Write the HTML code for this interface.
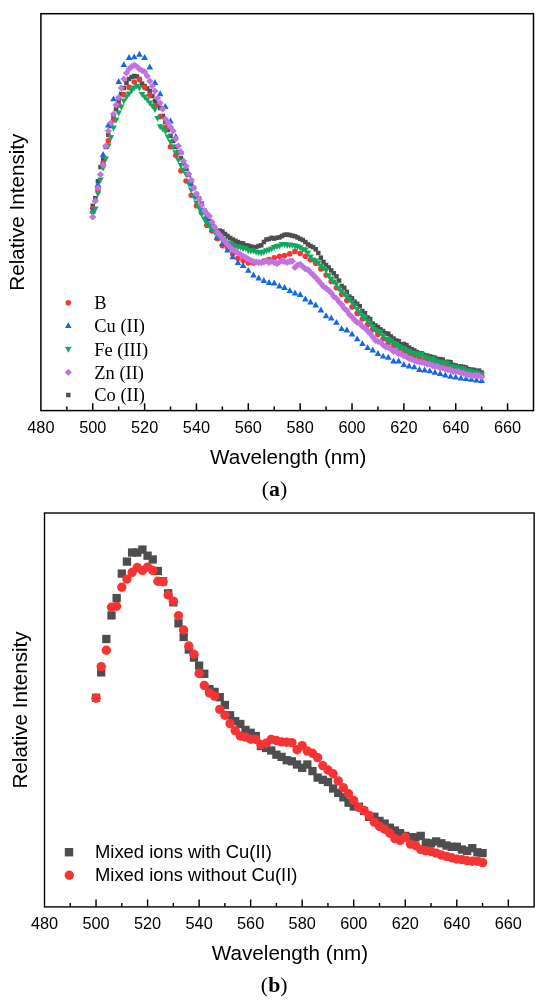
<!DOCTYPE html>
<html><head><meta charset="utf-8"><title>Figure</title>
<style>html,body{margin:0;padding:0;background:#fff}svg{display:block}text{fill:#000}.s{font-family:"Liberation Sans",Arial,sans-serif}.t{font-family:"Liberation Serif","Times New Roman",serif}</style></head><body>
<svg width="550" height="1006" viewBox="0 0 550 1006">
<rect width="550" height="1006" fill="#fff"/>
<g stroke="#000" stroke-width="1.5" fill="none">
<rect x="40.9" y="13.7" width="492.60" height="396.90"/>
<path d="M66.83 410.6V406.60M92.75 410.6V403.30M118.68 410.6V406.60M144.61 410.6V403.30M170.53 410.6V406.60M196.46 410.6V403.30M222.38 410.6V406.60M248.31 410.6V403.30M274.24 410.6V406.60M300.16 410.6V403.30M326.09 410.6V406.60M352.02 410.6V403.30M377.94 410.6V406.60M403.87 410.6V403.30M429.79 410.6V406.60M455.72 410.6V403.30M481.65 410.6V406.60M507.57 410.6V403.30"/>
</g>
<g class="s" font-size="16.3" text-anchor="middle">
<text x="40.90" y="432.7">480</text>
<text x="92.75" y="432.7">500</text>
<text x="144.61" y="432.7">520</text>
<text x="196.46" y="432.7">540</text>
<text x="248.31" y="432.7">560</text>
<text x="300.16" y="432.7">580</text>
<text x="352.02" y="432.7">600</text>
<text x="403.87" y="432.7">620</text>
<text x="455.72" y="432.7">640</text>
<text x="507.57" y="432.7">660</text>
</g>
<text class="s" font-size="20.65" text-anchor="middle" x="288.2" y="464.1">Wavelength (nm)</text>
<text class="s" font-size="20.65" text-anchor="middle" transform="translate(23.8 212.15) rotate(-90)">Relative Intensity</text>
<g fill="#4E4E4E">
<rect x="90.50" y="203.55" width="4.50" height="4.50"/><rect x="93.10" y="195.95" width="4.50" height="4.50"/><rect x="95.69" y="179.05" width="4.50" height="4.50"/><rect x="98.28" y="164.85" width="4.50" height="4.50"/><rect x="100.87" y="157.15" width="4.50" height="4.50"/><rect x="103.47" y="144.75" width="4.50" height="4.50"/><rect x="106.06" y="132.65" width="4.50" height="4.50"/><rect x="108.65" y="123.75" width="4.50" height="4.50"/><rect x="111.24" y="114.75" width="4.50" height="4.50"/><rect x="113.84" y="106.75" width="4.50" height="4.50"/><rect x="116.43" y="98.75" width="4.50" height="4.50"/><rect x="119.02" y="91.75" width="4.50" height="4.50"/><rect x="121.61" y="85.75" width="4.50" height="4.50"/><rect x="124.21" y="80.75" width="4.50" height="4.50"/><rect x="126.80" y="76.75" width="4.50" height="4.50"/><rect x="129.39" y="74.75" width="4.50" height="4.50"/><rect x="131.98" y="73.75" width="4.50" height="4.50"/><rect x="134.58" y="74.25" width="4.50" height="4.50"/><rect x="137.17" y="76.75" width="4.50" height="4.50"/><rect x="139.76" y="81.35" width="4.50" height="4.50"/><rect x="142.36" y="83.75" width="4.50" height="4.50"/><rect x="144.95" y="86.25" width="4.50" height="4.50"/><rect x="147.54" y="88.75" width="4.50" height="4.50"/><rect x="150.13" y="93.75" width="4.50" height="4.50"/><rect x="152.73" y="98.75" width="4.50" height="4.50"/><rect x="155.32" y="101.75" width="4.50" height="4.50"/><rect x="157.91" y="105.75" width="4.50" height="4.50"/><rect x="160.50" y="113.75" width="4.50" height="4.50"/><rect x="163.10" y="119.75" width="4.50" height="4.50"/><rect x="165.69" y="127.75" width="4.50" height="4.50"/><rect x="168.28" y="133.55" width="4.50" height="4.50"/><rect x="170.87" y="138.75" width="4.50" height="4.50"/><rect x="173.47" y="144.75" width="4.50" height="4.50"/><rect x="176.06" y="149.75" width="4.50" height="4.50"/><rect x="178.65" y="155.75" width="4.50" height="4.50"/><rect x="181.24" y="160.75" width="4.50" height="4.50"/><rect x="183.84" y="166.75" width="4.50" height="4.50"/><rect x="186.43" y="172.75" width="4.50" height="4.50"/><rect x="189.02" y="178.75" width="4.50" height="4.50"/><rect x="191.62" y="185.75" width="4.50" height="4.50"/><rect x="194.21" y="191.75" width="4.50" height="4.50"/><rect x="196.80" y="196.25" width="4.50" height="4.50"/><rect x="199.39" y="201.35" width="4.50" height="4.50"/><rect x="201.99" y="208.35" width="4.50" height="4.50"/><rect x="204.58" y="213.75" width="4.50" height="4.50"/><rect x="207.17" y="218.75" width="4.50" height="4.50"/><rect x="209.76" y="220.75" width="4.50" height="4.50"/><rect x="212.36" y="225.25" width="4.50" height="4.50"/><rect x="214.95" y="229.35" width="4.50" height="4.50"/><rect x="217.54" y="228.35" width="4.50" height="4.50"/><rect x="220.13" y="229.25" width="4.50" height="4.50"/><rect x="222.73" y="231.69" width="4.50" height="4.50"/><rect x="225.32" y="233.75" width="4.50" height="4.50"/><rect x="227.91" y="235.70" width="4.50" height="4.50"/><rect x="230.50" y="237.25" width="4.50" height="4.50"/><rect x="233.10" y="238.55" width="4.50" height="4.50"/><rect x="235.69" y="239.75" width="4.50" height="4.50"/><rect x="238.28" y="240.90" width="4.50" height="4.50"/><rect x="240.88" y="241.25" width="4.50" height="4.50"/><rect x="243.47" y="243.25" width="4.50" height="4.50"/><rect x="246.06" y="243.35" width="4.50" height="4.50"/><rect x="248.65" y="244.25" width="4.50" height="4.50"/><rect x="251.25" y="245.15" width="4.50" height="4.50"/><rect x="253.84" y="244.75" width="4.50" height="4.50"/><rect x="256.43" y="243.75" width="4.50" height="4.50"/><rect x="259.02" y="243.05" width="4.50" height="4.50"/><rect x="261.62" y="239.75" width="4.50" height="4.50"/><rect x="264.21" y="237.25" width="4.50" height="4.50"/><rect x="266.80" y="236.75" width="4.50" height="4.50"/><rect x="269.39" y="235.61" width="4.50" height="4.50"/><rect x="271.99" y="236.35" width="4.50" height="4.50"/><rect x="274.58" y="235.52" width="4.50" height="4.50"/><rect x="277.17" y="235.15" width="4.50" height="4.50"/><rect x="279.76" y="233.75" width="4.50" height="4.50"/><rect x="282.36" y="232.55" width="4.50" height="4.50"/><rect x="284.95" y="232.35" width="4.50" height="4.50"/><rect x="287.54" y="232.75" width="4.50" height="4.50"/><rect x="290.14" y="233.45" width="4.50" height="4.50"/><rect x="292.73" y="234.05" width="4.50" height="4.50"/><rect x="295.32" y="235.25" width="4.50" height="4.50"/><rect x="297.91" y="236.55" width="4.50" height="4.50"/><rect x="300.51" y="237.75" width="4.50" height="4.50"/><rect x="303.10" y="239.75" width="4.50" height="4.50"/><rect x="305.69" y="242.15" width="4.50" height="4.50"/><rect x="308.28" y="243.75" width="4.50" height="4.50"/><rect x="310.88" y="244.93" width="4.50" height="4.50"/><rect x="313.47" y="247.05" width="4.50" height="4.50"/><rect x="316.06" y="250.75" width="4.50" height="4.50"/><rect x="318.65" y="255.45" width="4.50" height="4.50"/><rect x="321.25" y="259.75" width="4.50" height="4.50"/><rect x="323.84" y="262.75" width="4.50" height="4.50"/><rect x="326.43" y="265.25" width="4.50" height="4.50"/><rect x="329.02" y="268.14" width="4.50" height="4.50"/><rect x="331.62" y="271.05" width="4.50" height="4.50"/><rect x="334.21" y="274.16" width="4.50" height="4.50"/><rect x="336.80" y="278.35" width="4.50" height="4.50"/><rect x="339.40" y="283.76" width="4.50" height="4.50"/><rect x="341.99" y="285.55" width="4.50" height="4.50"/><rect x="344.58" y="289.68" width="4.50" height="4.50"/><rect x="347.17" y="294.35" width="4.50" height="4.50"/><rect x="349.77" y="296.06" width="4.50" height="4.50"/><rect x="352.36" y="299.45" width="4.50" height="4.50"/><rect x="354.95" y="301.55" width="4.50" height="4.50"/><rect x="357.54" y="304.00" width="4.50" height="4.50"/><rect x="360.14" y="308.75" width="4.50" height="4.50"/><rect x="362.73" y="310.96" width="4.50" height="4.50"/><rect x="365.32" y="315.22" width="4.50" height="4.50"/><rect x="367.91" y="316.75" width="4.50" height="4.50"/><rect x="370.51" y="321.32" width="4.50" height="4.50"/><rect x="373.10" y="323.15" width="4.50" height="4.50"/><rect x="375.69" y="324.79" width="4.50" height="4.50"/><rect x="378.28" y="327.12" width="4.50" height="4.50"/><rect x="380.88" y="328.75" width="4.50" height="4.50"/><rect x="383.47" y="331.04" width="4.50" height="4.50"/><rect x="386.06" y="331.43" width="4.50" height="4.50"/><rect x="388.66" y="334.25" width="4.50" height="4.50"/><rect x="391.25" y="336.27" width="4.50" height="4.50"/><rect x="393.84" y="338.25" width="4.50" height="4.50"/><rect x="396.43" y="338.90" width="4.50" height="4.50"/><rect x="399.03" y="341.98" width="4.50" height="4.50"/><rect x="401.62" y="341.75" width="4.50" height="4.50"/><rect x="404.21" y="342.87" width="4.50" height="4.50"/><rect x="406.80" y="345.35" width="4.50" height="4.50"/><rect x="409.40" y="346.92" width="4.50" height="4.50"/><rect x="411.99" y="348.22" width="4.50" height="4.50"/><rect x="414.58" y="349.75" width="4.50" height="4.50"/><rect x="417.17" y="350.89" width="4.50" height="4.50"/><rect x="419.77" y="351.25" width="4.50" height="4.50"/><rect x="422.36" y="352.99" width="4.50" height="4.50"/><rect x="424.95" y="353.41" width="4.50" height="4.50"/><rect x="427.54" y="354.15" width="4.50" height="4.50"/><rect x="430.14" y="354.73" width="4.50" height="4.50"/><rect x="432.73" y="355.47" width="4.50" height="4.50"/><rect x="435.32" y="356.75" width="4.50" height="4.50"/><rect x="437.92" y="356.89" width="4.50" height="4.50"/><rect x="440.51" y="357.28" width="4.50" height="4.50"/><rect x="443.10" y="359.75" width="4.50" height="4.50"/><rect x="445.69" y="359.56" width="4.50" height="4.50"/><rect x="448.29" y="359.94" width="4.50" height="4.50"/><rect x="450.88" y="362.67" width="4.50" height="4.50"/><rect x="453.47" y="363.25" width="4.50" height="4.50"/><rect x="456.06" y="364.39" width="4.50" height="4.50"/><rect x="458.66" y="364.31" width="4.50" height="4.50"/><rect x="461.25" y="364.57" width="4.50" height="4.50"/><rect x="463.84" y="365.22" width="4.50" height="4.50"/><rect x="466.43" y="366.95" width="4.50" height="4.50"/><rect x="469.03" y="367.39" width="4.50" height="4.50"/><rect x="471.62" y="367.61" width="4.50" height="4.50"/><rect x="474.21" y="368.71" width="4.50" height="4.50"/><rect x="476.80" y="368.36" width="4.50" height="4.50"/><rect x="479.40" y="370.25" width="4.50" height="4.50"/>
</g>
<g fill="#F73434">
<circle cx="92.75" cy="208.50" r="2.80"/><circle cx="97.94" cy="189.40" r="2.80"/><circle cx="103.12" cy="163.00" r="2.80"/><circle cx="108.31" cy="140.90" r="2.80"/><circle cx="113.49" cy="120.00" r="2.80"/><circle cx="118.68" cy="105.00" r="2.80"/><circle cx="123.86" cy="94.60" r="2.80"/><circle cx="129.05" cy="87.40" r="2.80"/><circle cx="134.23" cy="82.00" r="2.80"/><circle cx="139.42" cy="79.60" r="2.80"/><circle cx="144.61" cy="87.40" r="2.80"/><circle cx="149.79" cy="95.00" r="2.80"/><circle cx="154.98" cy="105.80" r="2.80"/><circle cx="160.16" cy="116.60" r="2.80"/><circle cx="165.35" cy="127.40" r="2.80"/><circle cx="170.53" cy="146.80" r="2.80"/><circle cx="175.72" cy="155.20" r="2.80"/><circle cx="180.90" cy="170.80" r="2.80"/><circle cx="186.09" cy="181.00" r="2.80"/><circle cx="191.27" cy="195.20" r="2.80"/><circle cx="196.46" cy="205.70" r="2.80"/><circle cx="201.64" cy="212.70" r="2.80"/><circle cx="206.83" cy="225.30" r="2.80"/><circle cx="212.01" cy="231.00" r="2.80"/><circle cx="217.20" cy="238.40" r="2.80"/><circle cx="222.38" cy="245.60" r="2.80"/><circle cx="227.57" cy="247.40" r="2.80"/><circle cx="232.75" cy="254.00" r="2.80"/><circle cx="237.94" cy="258.20" r="2.80"/><circle cx="243.13" cy="260.60" r="2.80"/><circle cx="248.31" cy="263.00" r="2.80"/><circle cx="253.50" cy="263.00" r="2.80"/><circle cx="258.68" cy="262.50" r="2.80"/><circle cx="263.87" cy="261.00" r="2.80"/><circle cx="269.05" cy="259.50" r="2.80"/><circle cx="274.24" cy="257.70" r="2.80"/><circle cx="279.42" cy="256.30" r="2.80"/><circle cx="284.61" cy="255.60" r="2.80"/><circle cx="289.79" cy="253.90" r="2.80"/><circle cx="294.98" cy="251.40" r="2.80"/><circle cx="300.16" cy="253.50" r="2.80"/><circle cx="305.35" cy="256.30" r="2.80"/><circle cx="310.53" cy="259.80" r="2.80"/><circle cx="315.72" cy="263.30" r="2.80"/><circle cx="320.90" cy="268.90" r="2.80"/><circle cx="326.09" cy="275.10" r="2.80"/><circle cx="331.27" cy="281.40" r="2.80"/><circle cx="336.46" cy="287.80" r="2.80"/><circle cx="341.65" cy="294.20" r="2.80"/><circle cx="346.83" cy="300.60" r="2.80"/><circle cx="352.02" cy="307.00" r="2.80"/><circle cx="357.20" cy="313.40" r="2.80"/><circle cx="362.39" cy="319.00" r="2.80"/><circle cx="367.57" cy="324.60" r="2.80"/><circle cx="372.76" cy="329.40" r="2.80"/><circle cx="377.94" cy="334.50" r="2.80"/><circle cx="383.13" cy="339.00" r="2.80"/><circle cx="388.31" cy="343.00" r="2.80"/><circle cx="393.50" cy="346.00" r="2.80"/><circle cx="398.68" cy="349.00" r="2.80"/><circle cx="403.87" cy="351.50" r="2.80"/><circle cx="409.05" cy="354.00" r="2.80"/><circle cx="414.24" cy="356.00" r="2.80"/><circle cx="419.42" cy="358.00" r="2.80"/><circle cx="424.61" cy="359.50" r="2.80"/><circle cx="429.79" cy="361.00" r="2.80"/><circle cx="434.98" cy="362.80" r="2.80"/><circle cx="440.17" cy="364.30" r="2.80"/><circle cx="445.35" cy="365.80" r="2.80"/><circle cx="450.54" cy="367.20" r="2.80"/><circle cx="455.72" cy="368.50" r="2.80"/><circle cx="460.91" cy="370.00" r="2.80"/><circle cx="466.09" cy="371.50" r="2.80"/><circle cx="471.28" cy="373.00" r="2.80"/><circle cx="476.46" cy="374.30" r="2.80"/><circle cx="481.65" cy="375.50" r="2.80"/>
</g>
<g fill="#1468E0">
<path d="M89.45 213.50L96.05 213.50L92.75 207.60Z"/><path d="M94.64 187.00L101.24 187.00L97.94 181.10Z"/><path d="M99.82 157.00L106.42 157.00L103.12 151.10Z"/><path d="M105.01 127.50L111.61 127.50L108.31 121.60Z"/><path d="M110.19 101.30L116.79 101.30L113.49 95.40Z"/><path d="M115.38 83.90L121.98 83.90L118.68 78.00Z"/><path d="M120.56 67.10L127.16 67.10L123.86 61.20Z"/><path d="M125.75 59.90L132.35 59.90L129.05 54.00Z"/><path d="M130.93 59.30L137.53 59.30L134.23 53.40Z"/><path d="M136.12 56.70L142.72 56.70L139.42 50.80Z"/><path d="M141.31 59.90L147.91 59.90L144.61 54.00Z"/><path d="M146.49 69.50L153.09 69.50L149.79 63.60Z"/><path d="M151.68 85.00L158.28 85.00L154.98 79.10Z"/><path d="M156.86 96.20L163.46 96.20L160.16 90.30Z"/><path d="M162.05 108.90L168.65 108.90L165.35 103.00Z"/><path d="M167.23 123.50L173.83 123.50L170.53 117.60Z"/><path d="M172.42 138.90L179.02 138.90L175.72 133.00Z"/><path d="M177.60 154.50L184.20 154.50L180.90 148.60Z"/><path d="M182.79 170.50L189.39 170.50L186.09 164.60Z"/><path d="M187.97 186.50L194.57 186.50L191.27 180.60Z"/><path d="M193.16 199.50L199.76 199.50L196.46 193.60Z"/><path d="M198.34 212.50L204.94 212.50L201.64 206.60Z"/><path d="M203.53 222.50L210.13 222.50L206.83 216.60Z"/><path d="M208.71 231.50L215.31 231.50L212.01 225.60Z"/><path d="M213.90 240.00L220.50 240.00L217.20 234.10Z"/><path d="M219.08 246.00L225.68 246.00L222.38 240.10Z"/><path d="M224.27 252.50L230.87 252.50L227.57 246.60Z"/><path d="M229.45 259.30L236.05 259.30L232.75 253.40Z"/><path d="M234.64 264.90L241.24 264.90L237.94 259.00Z"/><path d="M239.83 268.00L246.43 268.00L243.13 262.10Z"/><path d="M245.01 272.80L251.61 272.80L248.31 266.90Z"/><path d="M250.20 277.50L256.80 277.50L253.50 271.60Z"/><path d="M255.38 280.50L261.98 280.50L258.68 274.60Z"/><path d="M260.57 283.00L267.17 283.00L263.87 277.10Z"/><path d="M265.75 285.00L272.35 285.00L269.05 279.10Z"/><path d="M270.94 285.50L277.54 285.50L274.24 279.60Z"/><path d="M276.12 288.50L282.72 288.50L279.42 282.60Z"/><path d="M281.31 290.00L287.91 290.00L284.61 284.10Z"/><path d="M286.49 293.00L293.09 293.00L289.79 287.10Z"/><path d="M291.68 295.50L298.28 295.50L294.98 289.60Z"/><path d="M296.86 297.00L303.46 297.00L300.16 291.10Z"/><path d="M302.05 301.50L308.65 301.50L305.35 295.60Z"/><path d="M307.23 304.50L313.83 304.50L310.53 298.60Z"/><path d="M312.42 307.50L319.02 307.50L315.72 301.60Z"/><path d="M317.60 312.50L324.20 312.50L320.90 306.60Z"/><path d="M322.79 318.20L329.39 318.20L326.09 312.30Z"/><path d="M327.97 320.50L334.57 320.50L331.27 314.60Z"/><path d="M333.16 324.80L339.76 324.80L336.46 318.90Z"/><path d="M338.35 331.10L344.95 331.10L341.65 325.20Z"/><path d="M343.53 332.50L350.13 332.50L346.83 326.60Z"/><path d="M348.72 336.50L355.32 336.50L352.02 330.60Z"/><path d="M353.90 341.30L360.50 341.30L357.20 335.40Z"/><path d="M359.09 346.10L365.69 346.10L362.39 340.20Z"/><path d="M364.27 350.10L370.87 350.10L367.57 344.20Z"/><path d="M369.46 352.50L376.06 352.50L372.76 346.60Z"/><path d="M374.64 356.00L381.24 356.00L377.94 350.10Z"/><path d="M379.83 358.60L386.43 358.60L383.13 352.70Z"/><path d="M385.01 359.70L391.61 359.70L388.31 353.80Z"/><path d="M390.20 363.40L396.80 363.40L393.50 357.50Z"/><path d="M395.38 363.40L401.98 363.40L398.68 357.50Z"/><path d="M400.57 366.90L407.17 366.90L403.87 361.00Z"/><path d="M405.75 368.50L412.35 368.50L409.05 362.60Z"/><path d="M410.94 369.30L417.54 369.30L414.24 363.40Z"/><path d="M416.12 372.00L422.72 372.00L419.42 366.10Z"/><path d="M421.31 372.50L427.91 372.50L424.61 366.60Z"/><path d="M426.49 373.30L433.09 373.30L429.79 367.40Z"/><path d="M431.68 374.80L438.28 374.80L434.98 368.90Z"/><path d="M436.87 376.00L443.47 376.00L440.17 370.10Z"/><path d="M442.05 377.50L448.65 377.50L445.35 371.60Z"/><path d="M447.24 378.80L453.84 378.80L450.54 372.90Z"/><path d="M452.42 379.50L459.02 379.50L455.72 373.60Z"/><path d="M457.61 380.50L464.21 380.50L460.91 374.60Z"/><path d="M462.79 381.00L469.39 381.00L466.09 375.10Z"/><path d="M467.98 381.80L474.58 381.80L471.28 375.90Z"/><path d="M473.16 382.50L479.76 382.50L476.46 376.60Z"/><path d="M478.35 383.00L484.95 383.00L481.65 377.10Z"/>
</g>
<g fill="#12A75E">
<path d="M89.45 210.90L96.05 210.90L92.75 216.80Z"/><path d="M92.05 206.50L98.65 206.50L95.35 212.40Z"/><path d="M94.64 191.30L101.24 191.30L97.94 197.20Z"/><path d="M97.23 177.50L103.83 177.50L100.53 183.40Z"/><path d="M99.82 165.50L106.42 165.50L103.12 171.40Z"/><path d="M102.42 156.40L109.02 156.40L105.72 162.30Z"/><path d="M105.01 143.50L111.61 143.50L108.31 149.40Z"/><path d="M107.60 135.10L114.20 135.10L110.90 141.00Z"/><path d="M110.19 125.50L116.79 125.50L113.49 131.40Z"/><path d="M112.79 117.50L119.39 117.50L116.09 123.40Z"/><path d="M115.38 110.50L121.98 110.50L118.68 116.40Z"/><path d="M117.97 104.50L124.57 104.50L121.27 110.40Z"/><path d="M120.56 98.50L127.16 98.50L123.86 104.40Z"/><path d="M123.16 94.50L129.76 94.50L126.46 100.40Z"/><path d="M125.75 91.50L132.35 91.50L129.05 97.40Z"/><path d="M128.34 88.00L134.94 88.00L131.64 93.90Z"/><path d="M130.93 85.50L137.53 85.50L134.23 91.40Z"/><path d="M133.53 83.70L140.13 83.70L136.83 89.60Z"/><path d="M136.12 85.50L142.72 85.50L139.42 91.40Z"/><path d="M138.71 91.90L145.31 91.90L142.01 97.80Z"/><path d="M141.31 94.50L147.91 94.50L144.61 100.40Z"/><path d="M143.90 97.30L150.50 97.30L147.20 103.20Z"/><path d="M146.49 100.50L153.09 100.50L149.79 106.40Z"/><path d="M149.08 103.50L155.68 103.50L152.38 109.40Z"/><path d="M151.68 107.00L158.28 107.00L154.98 112.90Z"/><path d="M154.27 115.90L160.87 115.90L157.57 121.80Z"/><path d="M156.86 124.30L163.46 124.30L160.16 130.20Z"/><path d="M159.45 126.50L166.05 126.50L162.75 132.40Z"/><path d="M162.05 129.00L168.65 129.00L165.35 134.90Z"/><path d="M164.64 134.50L171.24 134.50L167.94 140.40Z"/><path d="M167.23 139.50L173.83 139.50L170.53 145.40Z"/><path d="M169.82 144.50L176.42 144.50L173.12 150.40Z"/><path d="M172.42 150.30L179.02 150.30L175.72 156.20Z"/><path d="M175.01 157.50L181.61 157.50L178.31 163.40Z"/><path d="M177.60 162.90L184.20 162.90L180.90 168.80Z"/><path d="M180.19 167.50L186.79 167.50L183.49 173.40Z"/><path d="M182.79 171.90L189.39 171.90L186.09 177.80Z"/><path d="M185.38 180.90L191.98 180.90L188.68 186.80Z"/><path d="M187.97 187.50L194.57 187.50L191.27 193.40Z"/><path d="M190.57 193.50L197.17 193.50L193.87 199.40Z"/><path d="M193.16 200.40L199.76 200.40L196.46 206.30Z"/><path d="M195.75 205.50L202.35 205.50L199.05 211.40Z"/><path d="M198.34 211.50L204.94 211.50L201.64 217.40Z"/><path d="M200.94 216.50L207.54 216.50L204.24 222.40Z"/><path d="M203.53 220.70L210.13 220.70L206.83 226.60Z"/><path d="M206.12 223.50L212.72 223.50L209.42 229.40Z"/><path d="M208.71 226.50L215.31 226.50L212.01 232.40Z"/><path d="M211.31 229.50L217.91 229.50L214.61 235.40Z"/><path d="M213.90 232.50L220.50 232.50L217.20 238.40Z"/><path d="M216.49 235.50L223.09 235.50L219.79 241.40Z"/><path d="M219.08 237.50L225.68 237.50L222.38 243.40Z"/><path d="M221.68 237.85L228.28 237.85L224.98 243.75Z"/><path d="M224.27 240.50L230.87 240.50L227.57 246.40Z"/><path d="M226.86 241.46L233.46 241.46L230.16 247.36Z"/><path d="M229.45 243.00L236.05 243.00L232.75 248.90Z"/><path d="M232.05 243.99L238.65 243.99L235.35 249.89Z"/><path d="M234.64 244.50L241.24 244.50L237.94 250.40Z"/><path d="M237.23 244.90L243.83 244.90L240.53 250.80Z"/><path d="M239.83 246.00L246.43 246.00L243.13 251.90Z"/><path d="M242.42 246.09L249.02 246.09L245.72 251.99Z"/><path d="M245.01 248.00L251.61 248.00L248.31 253.90Z"/><path d="M247.60 248.72L254.20 248.72L250.90 254.62Z"/><path d="M250.20 248.50L256.80 248.50L253.50 254.40Z"/><path d="M252.79 249.63L259.39 249.63L256.09 255.53Z"/><path d="M255.38 250.00L261.98 250.00L258.68 255.90Z"/><path d="M257.97 250.30L264.57 250.30L261.27 256.20Z"/><path d="M260.57 249.50L267.17 249.50L263.87 255.40Z"/><path d="M263.16 248.34L269.76 248.34L266.46 254.24Z"/><path d="M265.75 247.50L272.35 247.50L269.05 253.40Z"/><path d="M268.34 246.39L274.94 246.39L271.64 252.29Z"/><path d="M270.94 245.00L277.54 245.00L274.24 250.90Z"/><path d="M273.53 244.07L280.13 244.07L276.83 249.97Z"/><path d="M276.12 243.50L282.72 243.50L279.42 249.40Z"/><path d="M278.71 241.97L285.31 241.97L282.01 247.87Z"/><path d="M281.31 242.10L287.91 242.10L284.61 248.00Z"/><path d="M283.90 242.85L290.50 242.85L287.20 248.75Z"/><path d="M286.49 242.50L293.09 242.50L289.79 248.40Z"/><path d="M289.09 242.96L295.69 242.96L292.39 248.86Z"/><path d="M291.68 243.50L298.28 243.50L294.98 249.40Z"/><path d="M294.27 244.25L300.87 244.25L297.57 250.15Z"/><path d="M296.86 245.20L303.46 245.20L300.16 251.10Z"/><path d="M299.46 247.13L306.06 247.13L302.76 253.03Z"/><path d="M302.05 247.50L308.65 247.50L305.35 253.40Z"/><path d="M304.64 250.50L311.24 250.50L307.94 256.40Z"/><path d="M307.23 254.50L313.83 254.50L310.53 260.40Z"/><path d="M309.83 257.42L316.43 257.42L313.13 263.32Z"/><path d="M312.42 258.50L319.02 258.50L315.72 264.40Z"/><path d="M315.01 260.58L321.61 260.58L318.31 266.48Z"/><path d="M317.60 263.50L324.20 263.50L320.90 269.40Z"/><path d="M320.20 265.64L326.80 265.64L323.50 271.54Z"/><path d="M322.79 268.00L329.39 268.00L326.09 273.90Z"/><path d="M325.38 273.27L331.98 273.27L328.68 279.17Z"/><path d="M327.97 276.50L334.57 276.50L331.27 282.40Z"/><path d="M330.57 279.59L337.17 279.59L333.87 285.49Z"/><path d="M333.16 281.50L339.76 281.50L336.46 287.40Z"/><path d="M335.75 286.28L342.35 286.28L339.05 292.18Z"/><path d="M338.35 289.00L344.95 289.00L341.65 294.90Z"/><path d="M340.94 291.66L347.54 291.66L344.24 297.56Z"/><path d="M343.53 294.50L350.13 294.50L346.83 300.40Z"/><path d="M346.12 297.12L352.72 297.12L349.42 303.02Z"/><path d="M348.72 300.00L355.32 300.00L352.02 305.90Z"/><path d="M351.31 303.35L357.91 303.35L354.61 309.25Z"/><path d="M353.90 307.00L360.50 307.00L357.20 312.90Z"/><path d="M356.49 310.30L363.09 310.30L359.79 316.20Z"/><path d="M359.09 313.50L365.69 313.50L362.39 319.40Z"/><path d="M361.68 315.63L368.28 315.63L364.98 321.53Z"/><path d="M364.27 318.50L370.87 318.50L367.57 324.40Z"/><path d="M366.86 321.23L373.46 321.23L370.16 327.13Z"/><path d="M369.46 324.00L376.06 324.00L372.76 329.90Z"/><path d="M372.05 327.50L378.65 327.50L375.35 333.40Z"/><path d="M374.64 329.00L381.24 329.00L377.94 334.90Z"/><path d="M377.23 329.84L383.83 329.84L380.53 335.74Z"/><path d="M379.83 333.50L386.43 333.50L383.13 339.40Z"/><path d="M382.42 336.42L389.02 336.42L385.72 342.32Z"/><path d="M385.01 337.00L391.61 337.00L388.31 342.90Z"/><path d="M387.61 338.59L394.21 338.59L390.91 344.49Z"/><path d="M390.20 341.00L396.80 341.00L393.50 346.90Z"/><path d="M392.79 342.10L399.39 342.10L396.09 348.00Z"/><path d="M395.38 344.00L401.98 344.00L398.68 349.90Z"/><path d="M397.98 345.24L404.58 345.24L401.28 351.14Z"/><path d="M400.57 346.50L407.17 346.50L403.87 352.40Z"/><path d="M403.16 348.15L409.76 348.15L406.46 354.05Z"/><path d="M405.75 349.00L412.35 349.00L409.05 354.90Z"/><path d="M408.35 350.48L414.95 350.48L411.65 356.38Z"/><path d="M410.94 351.00L417.54 351.00L414.24 356.90Z"/><path d="M413.53 351.55L420.13 351.55L416.83 357.45Z"/><path d="M416.12 353.00L422.72 353.00L419.42 358.90Z"/><path d="M418.72 351.91L425.32 351.91L422.02 357.81Z"/><path d="M421.31 354.50L427.91 354.50L424.61 360.40Z"/><path d="M423.90 355.28L430.50 355.28L427.20 361.18Z"/><path d="M426.49 357.00L433.09 357.00L429.79 362.90Z"/><path d="M429.09 356.28L435.69 356.28L432.39 362.18Z"/><path d="M431.68 358.22L438.28 358.22L434.98 364.12Z"/><path d="M434.27 359.71L440.87 359.71L437.57 365.61Z"/><path d="M436.87 359.73L443.47 359.73L440.17 365.63Z"/><path d="M439.46 360.50L446.06 360.50L442.76 366.40Z"/><path d="M442.05 360.52L448.65 360.52L445.35 366.42Z"/><path d="M444.64 361.23L451.24 361.23L447.94 367.13Z"/><path d="M447.24 363.91L453.84 363.91L450.54 369.81Z"/><path d="M449.83 364.49L456.43 364.49L453.13 370.39Z"/><path d="M452.42 365.00L459.02 365.00L455.72 370.90Z"/><path d="M455.01 366.73L461.61 366.73L458.31 372.63Z"/><path d="M457.61 365.64L464.21 365.64L460.91 371.54Z"/><path d="M460.20 366.76L466.80 366.76L463.50 372.66Z"/><path d="M462.79 368.62L469.39 368.62L466.09 374.52Z"/><path d="M465.38 368.50L471.98 368.50L468.68 374.40Z"/><path d="M467.98 369.21L474.58 369.21L471.28 375.11Z"/><path d="M470.57 371.24L477.17 371.24L473.87 377.14Z"/><path d="M473.16 370.12L479.76 370.12L476.46 376.02Z"/><path d="M475.75 371.56L482.35 371.56L479.05 377.46Z"/><path d="M478.35 372.00L484.95 372.00L481.65 377.90Z"/>
</g>
<g fill="#C273E1">
<path d="M89.15 217.00L92.75 213.40L96.35 217.00L92.75 220.60Z"/><path d="M91.75 201.00L95.35 197.40L98.95 201.00L95.35 204.60Z"/><path d="M94.34 188.00L97.94 184.40L101.54 188.00L97.94 191.60Z"/><path d="M96.93 174.50L100.53 170.90L104.13 174.50L100.53 178.10Z"/><path d="M99.52 165.00L103.12 161.40L106.72 165.00L103.12 168.60Z"/><path d="M102.12 146.00L105.72 142.40L109.32 146.00L105.72 149.60Z"/><path d="M104.71 131.00L108.31 127.40L111.91 131.00L108.31 134.60Z"/><path d="M107.30 123.00L110.90 119.40L114.50 123.00L110.90 126.60Z"/><path d="M109.89 114.00L113.49 110.40L117.09 114.00L113.49 117.60Z"/><path d="M112.49 105.00L116.09 101.40L119.69 105.00L116.09 108.60Z"/><path d="M115.08 97.60L118.68 94.00L122.28 97.60L118.68 101.20Z"/><path d="M117.67 88.00L121.27 84.40L124.87 88.00L121.27 91.60Z"/><path d="M120.26 79.00L123.86 75.40L127.46 79.00L123.86 82.60Z"/><path d="M122.86 73.00L126.46 69.40L130.06 73.00L126.46 76.60Z"/><path d="M125.45 69.00L129.05 65.40L132.65 69.00L129.05 72.60Z"/><path d="M128.04 66.50L131.64 62.90L135.24 66.50L131.64 70.10Z"/><path d="M130.63 65.20L134.23 61.60L137.83 65.20L134.23 68.80Z"/><path d="M133.23 66.50L136.83 62.90L140.43 66.50L136.83 70.10Z"/><path d="M135.82 69.00L139.42 65.40L143.02 69.00L139.42 72.60Z"/><path d="M138.41 70.50L142.01 66.90L145.61 70.50L142.01 74.10Z"/><path d="M141.01 71.80L144.61 68.20L148.21 71.80L144.61 75.40Z"/><path d="M143.60 76.00L147.20 72.40L150.80 76.00L147.20 79.60Z"/><path d="M146.19 81.00L149.79 77.40L153.39 81.00L149.79 84.60Z"/><path d="M148.78 86.00L152.38 82.40L155.98 86.00L152.38 89.60Z"/><path d="M151.38 91.00L154.98 87.40L158.58 91.00L154.98 94.60Z"/><path d="M153.97 98.00L157.57 94.40L161.17 98.00L157.57 101.60Z"/><path d="M156.56 103.00L160.16 99.40L163.76 103.00L160.16 106.60Z"/><path d="M159.15 108.80L162.75 105.20L166.35 108.80L162.75 112.40Z"/><path d="M161.75 119.00L165.35 115.40L168.95 119.00L165.35 122.60Z"/><path d="M164.34 122.50L167.94 118.90L171.54 122.50L167.94 126.10Z"/><path d="M166.93 127.00L170.53 123.40L174.13 127.00L170.53 130.60Z"/><path d="M169.52 131.00L173.12 127.40L176.72 131.00L173.12 134.60Z"/><path d="M172.12 138.80L175.72 135.20L179.32 138.80L175.72 142.40Z"/><path d="M174.71 146.00L178.31 142.40L181.91 146.00L178.31 149.60Z"/><path d="M177.30 152.00L180.90 148.40L184.50 152.00L180.90 155.60Z"/><path d="M179.89 161.00L183.49 157.40L187.09 161.00L183.49 164.60Z"/><path d="M182.49 166.00L186.09 162.40L189.69 166.00L186.09 169.60Z"/><path d="M185.08 174.00L188.68 170.40L192.28 174.00L188.68 177.60Z"/><path d="M187.67 180.00L191.27 176.40L194.87 180.00L191.27 183.60Z"/><path d="M190.27 188.00L193.87 184.40L197.47 188.00L193.87 191.60Z"/><path d="M192.86 194.00L196.46 190.40L200.06 194.00L196.46 197.60Z"/><path d="M195.45 199.00L199.05 195.40L202.65 199.00L199.05 202.60Z"/><path d="M198.04 205.00L201.64 201.40L205.24 205.00L201.64 208.60Z"/><path d="M200.64 210.50L204.24 206.90L207.84 210.50L204.24 214.10Z"/><path d="M203.23 213.50L206.83 209.90L210.43 213.50L206.83 217.10Z"/><path d="M205.82 216.00L209.42 212.40L213.02 216.00L209.42 219.60Z"/><path d="M208.41 222.00L212.01 218.40L215.61 222.00L212.01 225.60Z"/><path d="M211.01 227.00L214.61 223.40L218.21 227.00L214.61 230.60Z"/><path d="M213.60 232.00L217.20 228.40L220.80 232.00L217.20 235.60Z"/><path d="M216.19 235.00L219.79 231.40L223.39 235.00L219.79 238.60Z"/><path d="M218.78 238.00L222.38 234.40L225.98 238.00L222.38 241.60Z"/><path d="M221.38 241.50L224.98 237.90L228.58 241.50L224.98 245.10Z"/><path d="M223.97 244.50L227.57 240.90L231.17 244.50L227.57 248.10Z"/><path d="M226.56 247.50L230.16 243.90L233.76 247.50L230.16 251.10Z"/><path d="M229.15 249.50L232.75 245.90L236.35 249.50L232.75 253.10Z"/><path d="M231.75 251.00L235.35 247.40L238.95 251.00L235.35 254.60Z"/><path d="M234.34 253.00L237.94 249.40L241.54 253.00L237.94 256.60Z"/><path d="M236.93 254.50L240.53 250.90L244.13 254.50L240.53 258.10Z"/><path d="M239.53 256.00L243.13 252.40L246.73 256.00L243.13 259.60Z"/><path d="M242.12 257.50L245.72 253.90L249.32 257.50L245.72 261.10Z"/><path d="M244.71 259.00L248.31 255.40L251.91 259.00L248.31 262.60Z"/><path d="M247.30 260.50L250.90 256.90L254.50 260.50L250.90 264.10Z"/><path d="M249.90 261.50L253.50 257.90L257.10 261.50L253.50 265.10Z"/><path d="M252.49 262.00L256.09 258.40L259.69 262.00L256.09 265.60Z"/><path d="M255.08 262.40L258.68 258.80L262.28 262.40L258.68 266.00Z"/><path d="M257.67 262.62L261.27 259.02L264.87 262.62L261.27 266.22Z"/><path d="M260.27 262.00L263.87 258.40L267.47 262.00L263.87 265.60Z"/><path d="M262.86 260.53L266.46 256.93L270.06 260.53L266.46 264.13Z"/><path d="M265.45 262.60L269.05 259.00L272.65 262.60L269.05 266.20Z"/><path d="M268.04 261.27L271.64 257.67L275.24 261.27L271.64 264.87Z"/><path d="M270.64 262.50L274.24 258.90L277.84 262.50L274.24 266.10Z"/><path d="M273.23 263.67L276.83 260.07L280.43 263.67L276.83 267.27Z"/><path d="M275.82 262.00L279.42 258.40L283.02 262.00L279.42 265.60Z"/><path d="M278.41 260.85L282.01 257.25L285.61 260.85L282.01 264.45Z"/><path d="M281.01 261.60L284.61 258.00L288.21 261.60L284.61 265.20Z"/><path d="M283.60 262.39L287.20 258.79L290.80 262.39L287.20 265.99Z"/><path d="M286.19 261.30L289.79 257.70L293.39 261.30L289.79 264.90Z"/><path d="M288.79 261.20L292.39 257.60L295.99 261.20L292.39 264.80Z"/><path d="M291.38 267.50L294.98 263.90L298.58 267.50L294.98 271.10Z"/><path d="M293.97 265.00L297.57 261.40L301.17 265.00L297.57 268.60Z"/><path d="M296.56 264.30L300.16 260.70L303.76 264.30L300.16 267.90Z"/><path d="M299.16 266.50L302.76 262.90L306.36 266.50L302.76 270.10Z"/><path d="M301.75 268.90L305.35 265.30L308.95 268.90L305.35 272.50Z"/><path d="M304.34 269.49L307.94 265.89L311.54 269.49L307.94 273.09Z"/><path d="M306.93 272.50L310.53 268.90L314.13 272.50L310.53 276.10Z"/><path d="M309.53 274.86L313.13 271.26L316.73 274.86L313.13 278.46Z"/><path d="M312.12 277.50L315.72 273.90L319.32 277.50L315.72 281.10Z"/><path d="M314.71 280.40L318.31 276.80L321.91 280.40L318.31 284.00Z"/><path d="M317.30 283.50L320.90 279.90L324.50 283.50L320.90 287.10Z"/><path d="M319.90 286.53L323.50 282.93L327.10 286.53L323.50 290.13Z"/><path d="M322.49 288.30L326.09 284.70L329.69 288.30L326.09 291.90Z"/><path d="M325.08 290.42L328.68 286.82L332.28 290.42L328.68 294.02Z"/><path d="M327.67 293.00L331.27 289.40L334.87 293.00L331.27 296.60Z"/><path d="M330.27 296.53L333.87 292.93L337.47 296.53L333.87 300.13Z"/><path d="M332.86 298.50L336.46 294.90L340.06 298.50L336.46 302.10Z"/><path d="M335.45 301.94L339.05 298.34L342.65 301.94L339.05 305.54Z"/><path d="M338.05 304.60L341.65 301.00L345.25 304.60L341.65 308.20Z"/><path d="M340.64 308.41L344.24 304.81L347.84 308.41L344.24 312.01Z"/><path d="M343.23 310.50L346.83 306.90L350.43 310.50L346.83 314.10Z"/><path d="M345.82 314.38L349.42 310.78L353.02 314.38L349.42 317.98Z"/><path d="M348.42 317.00L352.02 313.40L355.62 317.00L352.02 320.60Z"/><path d="M351.01 320.10L354.61 316.50L358.21 320.10L354.61 323.70Z"/><path d="M353.60 322.50L357.20 318.90L360.80 322.50L357.20 326.10Z"/><path d="M356.19 323.21L359.79 319.61L363.39 323.21L359.79 326.81Z"/><path d="M358.79 326.50L362.39 322.90L365.99 326.50L362.39 330.10Z"/><path d="M361.38 328.09L364.98 324.49L368.58 328.09L364.98 331.69Z"/><path d="M363.97 330.80L367.57 327.20L371.17 330.80L367.57 334.40Z"/><path d="M366.56 333.56L370.16 329.96L373.76 333.56L370.16 337.16Z"/><path d="M369.16 337.00L372.76 333.40L376.36 337.00L372.76 340.60Z"/><path d="M371.75 340.30L375.35 336.70L378.95 340.30L375.35 343.90Z"/><path d="M374.34 341.50L377.94 337.90L381.54 341.50L377.94 345.10Z"/><path d="M376.93 342.03L380.53 338.43L384.13 342.03L380.53 345.63Z"/><path d="M379.53 345.00L383.13 341.40L386.73 345.00L383.13 348.60Z"/><path d="M382.12 346.93L385.72 343.33L389.32 346.93L385.72 350.53Z"/><path d="M384.71 347.50L388.31 343.90L391.91 347.50L388.31 351.10Z"/><path d="M387.31 349.01L390.91 345.41L394.51 349.01L390.91 352.61Z"/><path d="M389.90 351.50L393.50 347.90L397.10 351.50L393.50 355.10Z"/><path d="M392.49 350.54L396.09 346.94L399.69 350.54L396.09 354.14Z"/><path d="M395.08 354.00L398.68 350.40L402.28 354.00L398.68 357.60Z"/><path d="M397.68 353.89L401.28 350.29L404.88 353.89L401.28 357.49Z"/><path d="M400.27 356.00L403.87 352.40L407.47 356.00L403.87 359.60Z"/><path d="M402.86 356.66L406.46 353.06L410.06 356.66L406.46 360.26Z"/><path d="M405.45 358.50L409.05 354.90L412.65 358.50L409.05 362.10Z"/><path d="M408.05 359.22L411.65 355.62L415.25 359.22L411.65 362.82Z"/><path d="M410.64 360.50L414.24 356.90L417.84 360.50L414.24 364.10Z"/><path d="M413.23 361.24L416.83 357.64L420.43 361.24L416.83 364.84Z"/><path d="M415.82 362.00L419.42 358.40L423.02 362.00L419.42 365.60Z"/><path d="M418.42 362.20L422.02 358.60L425.62 362.20L422.02 365.80Z"/><path d="M421.01 363.00L424.61 359.40L428.21 363.00L424.61 366.60Z"/><path d="M423.60 364.23L427.20 360.63L430.80 364.23L427.20 367.83Z"/><path d="M426.19 364.00L429.79 360.40L433.39 364.00L429.79 367.60Z"/><path d="M428.79 365.57L432.39 361.97L435.99 365.57L432.39 369.17Z"/><path d="M431.38 366.30L434.98 362.70L438.58 366.30L434.98 369.90Z"/><path d="M433.97 366.22L437.57 362.62L441.17 366.22L437.57 369.82Z"/><path d="M436.57 367.89L440.17 364.29L443.77 367.89L440.17 371.49Z"/><path d="M439.16 368.00L442.76 364.40L446.36 368.00L442.76 371.60Z"/><path d="M441.75 369.10L445.35 365.50L448.95 369.10L445.35 372.70Z"/><path d="M444.34 369.70L447.94 366.10L451.54 369.70L447.94 373.30Z"/><path d="M446.94 369.96L450.54 366.36L454.14 369.96L450.54 373.56Z"/><path d="M449.53 371.53L453.13 367.93L456.73 371.53L453.13 375.13Z"/><path d="M452.12 371.50L455.72 367.90L459.32 371.50L455.72 375.10Z"/><path d="M454.71 371.59L458.31 367.99L461.91 371.59L458.31 375.19Z"/><path d="M457.31 373.00L460.91 369.40L464.51 373.00L460.91 376.60Z"/><path d="M459.90 373.21L463.50 369.61L467.10 373.21L463.50 376.81Z"/><path d="M462.49 374.63L466.09 371.03L469.69 374.63L466.09 378.23Z"/><path d="M465.08 374.50L468.68 370.90L472.28 374.50L468.68 378.10Z"/><path d="M467.68 375.75L471.28 372.15L474.88 375.75L471.28 379.35Z"/><path d="M470.27 375.30L473.87 371.70L477.47 375.30L473.87 378.90Z"/><path d="M472.86 375.39L476.46 371.79L480.06 375.39L476.46 378.99Z"/><path d="M475.45 375.64L479.05 372.04L482.65 375.64L479.05 379.24Z"/><path d="M478.05 377.00L481.65 373.40L485.25 377.00L481.65 380.60Z"/>
</g>
<g fill="#F73434"><circle cx="68.30" cy="302.70" r="2.80"/></g>
<text class="t" font-size="18.45" x="94.3" y="308.9">B</text>
<g fill="#1468E0"><path d="M65.00 328.10L71.60 328.10L68.30 322.20Z"/></g>
<text class="t" font-size="18.45" x="94.3" y="331.8">Cu (II)</text>
<g fill="#12A75E"><path d="M65.00 346.80L71.60 346.80L68.30 352.70Z"/></g>
<text class="t" font-size="18.45" x="94.3" y="355.5">Fe (III)</text>
<g fill="#C273E1"><path d="M64.70 372.30L68.30 368.70L71.90 372.30L68.30 375.90Z"/></g>
<text class="t" font-size="18.45" x="94.3" y="378.5">Zn (II)</text>
<g fill="#4E4E4E"><rect x="66.05" y="392.75" width="4.50" height="4.50"/></g>
<text class="t" font-size="18.45" x="94.3" y="401.2">Co (II)</text>
<text class="t" font-size="21.8" text-anchor="middle" x="274.5" y="495.9">(<tspan font-weight="bold">a</tspan>)</text>
<g stroke="#000" stroke-width="1.4" fill="none">
<rect x="44.5" y="513.0" width="489.60" height="393.90"/>
<path d="M70.27 906.9V902.90M96.04 906.9V899.40M121.81 906.9V902.90M147.57 906.9V899.40M173.34 906.9V902.90M199.11 906.9V899.40M224.88 906.9V902.90M250.65 906.9V899.40M276.42 906.9V902.90M302.18 906.9V899.40M327.95 906.9V902.90M353.72 906.9V899.40M379.49 906.9V902.90M405.26 906.9V899.40M431.03 906.9V902.90M456.79 906.9V899.40M482.56 906.9V902.90M508.33 906.9V899.40"/>
</g>
<g class="s" font-size="16.3" text-anchor="middle">
<text x="44.50" y="928.5">480</text>
<text x="96.04" y="928.5">500</text>
<text x="147.57" y="928.5">520</text>
<text x="199.11" y="928.5">540</text>
<text x="250.65" y="928.5">560</text>
<text x="302.18" y="928.5">580</text>
<text x="353.72" y="928.5">600</text>
<text x="405.26" y="928.5">620</text>
<text x="456.79" y="928.5">640</text>
<text x="508.33" y="928.5">660</text>
</g>
<text class="s" font-size="20.65" text-anchor="middle" x="290" y="959.9">Wavelength (nm)</text>
<text class="s" font-size="20.65" text-anchor="middle" transform="translate(27.2 709.95) rotate(-90)">Relative Intensity</text>
<g fill="#4E4E4E">
<rect x="91.89" y="693.65" width="8.3" height="8.3"/><rect x="97.04" y="668.25" width="8.3" height="8.3"/><rect x="102.19" y="634.85" width="8.3" height="8.3"/><rect x="107.35" y="611.25" width="8.3" height="8.3"/><rect x="112.50" y="593.95" width="8.3" height="8.3"/><rect x="117.66" y="569.45" width="8.3" height="8.3"/><rect x="122.81" y="557.45" width="8.3" height="8.3"/><rect x="127.96" y="548.35" width="8.3" height="8.3"/><rect x="133.12" y="548.35" width="8.3" height="8.3"/><rect x="138.27" y="545.45" width="8.3" height="8.3"/><rect x="143.42" y="551.55" width="8.3" height="8.3"/><rect x="148.58" y="555.35" width="8.3" height="8.3"/><rect x="153.73" y="566.85" width="8.3" height="8.3"/><rect x="158.88" y="577.15" width="8.3" height="8.3"/><rect x="164.04" y="589.15" width="8.3" height="8.3"/><rect x="169.19" y="598.15" width="8.3" height="8.3"/><rect x="174.35" y="619.15" width="8.3" height="8.3"/><rect x="179.50" y="632.85" width="8.3" height="8.3"/><rect x="184.65" y="645.35" width="8.3" height="8.3"/><rect x="189.81" y="653.45" width="8.3" height="8.3"/><rect x="194.96" y="661.45" width="8.3" height="8.3"/><rect x="200.11" y="669.65" width="8.3" height="8.3"/><rect x="205.27" y="684.95" width="8.3" height="8.3"/><rect x="210.42" y="687.75" width="8.3" height="8.3"/><rect x="215.58" y="693.05" width="8.3" height="8.3"/><rect x="220.73" y="700.85" width="8.3" height="8.3"/><rect x="225.88" y="711.15" width="8.3" height="8.3"/><rect x="231.04" y="717.05" width="8.3" height="8.3"/><rect x="236.19" y="719.85" width="8.3" height="8.3"/><rect x="241.34" y="725.75" width="8.3" height="8.3"/><rect x="246.50" y="728.65" width="8.3" height="8.3"/><rect x="251.65" y="731.85" width="8.3" height="8.3"/><rect x="256.80" y="741.85" width="8.3" height="8.3"/><rect x="261.96" y="743.85" width="8.3" height="8.3"/><rect x="267.11" y="746.35" width="8.3" height="8.3"/><rect x="272.27" y="750.55" width="8.3" height="8.3"/><rect x="277.42" y="752.75" width="8.3" height="8.3"/><rect x="282.57" y="756.05" width="8.3" height="8.3"/><rect x="287.73" y="757.15" width="8.3" height="8.3"/><rect x="292.88" y="760.35" width="8.3" height="8.3"/><rect x="298.03" y="763.65" width="8.3" height="8.3"/><rect x="303.19" y="760.35" width="8.3" height="8.3"/><rect x="308.34" y="766.95" width="8.3" height="8.3"/><rect x="313.50" y="773.45" width="8.3" height="8.3"/><rect x="318.65" y="775.65" width="8.3" height="8.3"/><rect x="323.80" y="777.85" width="8.3" height="8.3"/><rect x="328.96" y="784.35" width="8.3" height="8.3"/><rect x="334.11" y="788.75" width="8.3" height="8.3"/><rect x="339.26" y="793.15" width="8.3" height="8.3"/><rect x="344.42" y="798.55" width="8.3" height="8.3"/><rect x="349.57" y="802.35" width="8.3" height="8.3"/><rect x="354.72" y="802.55" width="8.3" height="8.3"/><rect x="359.88" y="806.85" width="8.3" height="8.3"/><rect x="365.03" y="812.65" width="8.3" height="8.3"/><rect x="370.19" y="812.65" width="8.3" height="8.3"/><rect x="375.34" y="816.75" width="8.3" height="8.3"/><rect x="380.49" y="819.45" width="8.3" height="8.3"/><rect x="385.65" y="823.55" width="8.3" height="8.3"/><rect x="390.80" y="826.35" width="8.3" height="8.3"/><rect x="395.95" y="829.05" width="8.3" height="8.3"/><rect x="401.11" y="831.75" width="8.3" height="8.3"/><rect x="406.26" y="833.15" width="8.3" height="8.3"/><rect x="411.42" y="833.15" width="8.3" height="8.3"/><rect x="416.57" y="831.75" width="8.3" height="8.3"/><rect x="421.72" y="838.55" width="8.3" height="8.3"/><rect x="426.88" y="839.15" width="8.3" height="8.3"/><rect x="432.03" y="837.25" width="8.3" height="8.3"/><rect x="437.18" y="839.15" width="8.3" height="8.3"/><rect x="442.34" y="841.35" width="8.3" height="8.3"/><rect x="447.49" y="842.65" width="8.3" height="8.3"/><rect x="452.64" y="842.65" width="8.3" height="8.3"/><rect x="457.80" y="845.35" width="8.3" height="8.3"/><rect x="462.95" y="846.75" width="8.3" height="8.3"/><rect x="468.11" y="844.05" width="8.3" height="8.3"/><rect x="473.26" y="848.15" width="8.3" height="8.3"/><rect x="478.41" y="848.95" width="8.3" height="8.3"/>
</g>
<g fill="#F73434">
<circle cx="96.04" cy="698.20" r="4.7"/><circle cx="101.19" cy="666.60" r="4.7"/><circle cx="106.34" cy="650.20" r="4.7"/><circle cx="111.50" cy="607.20" r="4.7"/><circle cx="116.65" cy="606.20" r="4.7"/><circle cx="121.81" cy="587.20" r="4.7"/><circle cx="126.96" cy="579.10" r="4.7"/><circle cx="132.11" cy="572.50" r="4.7"/><circle cx="137.27" cy="567.50" r="4.7"/><circle cx="142.42" cy="570.40" r="4.7"/><circle cx="147.57" cy="567.10" r="4.7"/><circle cx="152.73" cy="570.40" r="4.7"/><circle cx="157.88" cy="581.30" r="4.7"/><circle cx="163.03" cy="581.70" r="4.7"/><circle cx="168.19" cy="595.00" r="4.7"/><circle cx="173.34" cy="601.30" r="4.7"/><circle cx="178.50" cy="615.70" r="4.7"/><circle cx="183.65" cy="630.00" r="4.7"/><circle cx="188.80" cy="646.00" r="4.7"/><circle cx="193.96" cy="654.20" r="4.7"/><circle cx="199.11" cy="673.50" r="4.7"/><circle cx="204.26" cy="685.40" r="4.7"/><circle cx="209.42" cy="693.00" r="4.7"/><circle cx="214.57" cy="696.10" r="4.7"/><circle cx="219.73" cy="709.40" r="4.7"/><circle cx="224.88" cy="715.30" r="4.7"/><circle cx="230.03" cy="723.60" r="4.7"/><circle cx="235.19" cy="730.60" r="4.7"/><circle cx="240.34" cy="736.00" r="4.7"/><circle cx="245.49" cy="737.10" r="4.7"/><circle cx="250.65" cy="739.30" r="4.7"/><circle cx="255.80" cy="739.40" r="4.7"/><circle cx="260.95" cy="744.80" r="4.7"/><circle cx="266.11" cy="743.20" r="4.7"/><circle cx="271.26" cy="739.40" r="4.7"/><circle cx="276.42" cy="740.50" r="4.7"/><circle cx="281.57" cy="741.90" r="4.7"/><circle cx="286.72" cy="742.30" r="4.7"/><circle cx="291.88" cy="742.60" r="4.7"/><circle cx="297.03" cy="749.70" r="4.7"/><circle cx="302.18" cy="745.60" r="4.7"/><circle cx="307.34" cy="751.00" r="4.7"/><circle cx="312.49" cy="753.20" r="4.7"/><circle cx="317.65" cy="757.60" r="4.7"/><circle cx="322.80" cy="765.60" r="4.7"/><circle cx="327.95" cy="770.00" r="4.7"/><circle cx="333.11" cy="773.70" r="4.7"/><circle cx="338.26" cy="780.90" r="4.7"/><circle cx="343.41" cy="787.80" r="4.7"/><circle cx="348.57" cy="793.80" r="4.7"/><circle cx="353.72" cy="800.50" r="4.7"/><circle cx="358.87" cy="807.50" r="4.7"/><circle cx="364.03" cy="810.50" r="4.7"/><circle cx="369.18" cy="815.50" r="4.7"/><circle cx="374.34" cy="822.30" r="4.7"/><circle cx="379.49" cy="826.40" r="4.7"/><circle cx="384.64" cy="829.10" r="4.7"/><circle cx="389.80" cy="833.20" r="4.7"/><circle cx="394.95" cy="838.60" r="4.7"/><circle cx="400.10" cy="840.50" r="4.7"/><circle cx="405.26" cy="837.30" r="4.7"/><circle cx="410.41" cy="844.10" r="4.7"/><circle cx="415.57" cy="845.50" r="4.7"/><circle cx="420.72" cy="849.50" r="4.7"/><circle cx="425.87" cy="850.90" r="4.7"/><circle cx="431.03" cy="851.50" r="4.7"/><circle cx="436.18" cy="853.10" r="4.7"/><circle cx="441.33" cy="855.00" r="4.7"/><circle cx="446.49" cy="856.40" r="4.7"/><circle cx="451.64" cy="857.70" r="4.7"/><circle cx="456.79" cy="859.10" r="4.7"/><circle cx="461.95" cy="859.60" r="4.7"/><circle cx="467.10" cy="860.70" r="4.7"/><circle cx="472.26" cy="861.30" r="4.7"/><circle cx="477.41" cy="861.30" r="4.7"/><circle cx="482.56" cy="862.60" r="4.7"/>
</g>
<rect x="64.8" y="848" width="8.4" height="8.4" fill="#4E4E4E"/>
<circle cx="69.3" cy="875.2" r="4.7" fill="#F73434"/>
<text class="s" font-size="18.4" x="95" y="858">Mixed ions with Cu(II)</text>
<text class="s" font-size="18.4" x="95" y="880.5">Mixed ions without Cu(II)</text>
<text class="t" font-size="21.8" text-anchor="middle" x="274.2" y="992.2">(<tspan font-weight="bold">b</tspan>)</text>
</svg></body></html>
